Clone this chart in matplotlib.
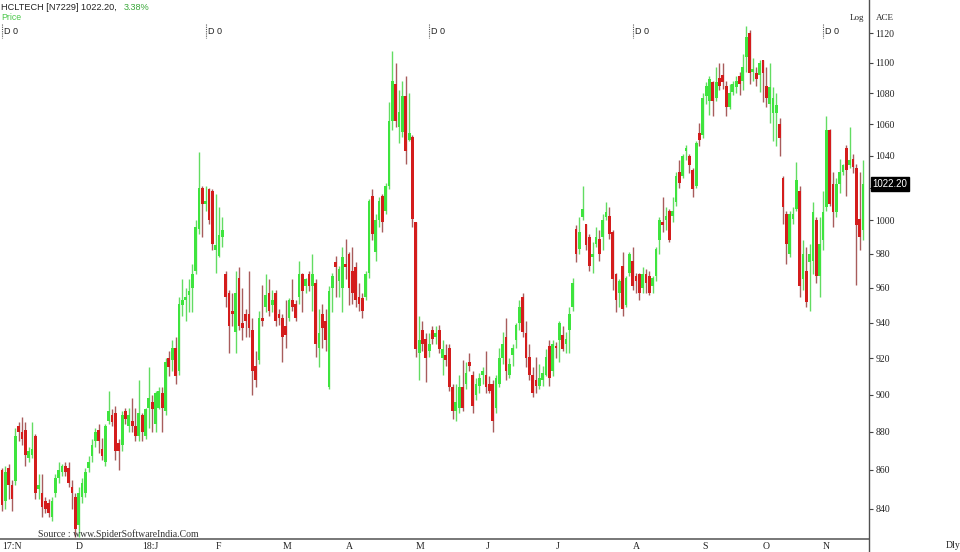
import matplotlib
matplotlib.use('Agg')
import matplotlib.pyplot as plt
import numpy as np
from matplotlib.ticker import FuncFormatter, NullLocator
from matplotlib.transforms import blended_transform_factory
from matplotlib.lines import Line2D

# ---- data (daily OHLC, HCLTECH, Nov-2017 .. Nov-2018) ----
opens = [
    860, 844, 861, 852, 854, 883, 880, 881, 866, 868, 878, 850, 848, 844, 843, 836, 848, 856, 859, 862,
    861, 851, 846, 832, 846, 848, 861, 867, 875, 881, 871, 864, 886, 889, 890, 874, 873, 891, 883, 886,
    883, 878, 889, 878, 893, 896, 884, 893, 901, 891, 920,
    919, 926, 913, 950, 953, 956, 960, 970, 995, 1020, 1010, 1019, 1018, 982, 979, 990, 968, 957, 947, 935,
    966, 940, 945, 945, 936, 916, 919, 943, 949, 957, 950, 957, 945, 943, 938, 943, 953, 951, 955, 968,
    961, 968, 961, 963, 926, 945, 941, 904, 960, 975, 964, 960, 974, 980,
    970, 972, 955, 954, 955, 969, 1015, 981, 1000, 1015, 1006, 1021, 1062, 1086, 1058, 1055, 1078, 1050, 1052, 999,
    923, 936, 931, 924, 936, 932, 936, 920, 922, 926, 904, 891, 893, 904, 906, 918, 911, 900, 905, 911,
    911, 906, 906, 893, 906, 920, 932, 911, 922, 930, 940, 955,
    934, 921, 911, 908, 905, 908, 911, 927, 913, 927, 930, 933, 928, 936, 949, 995, 983, 1002, 998, 990,
    978, 986, 989, 990, 1002, 1003, 993, 968, 957, 973, 950, 969, 976, 967, 968, 960, 968, 967, 961, 967,
    988, 999, 1000, 1006, 1003, 1011, 1030, 1027, 1043,
    1040, 1031, 1021, 1054, 1053, 1078, 1075, 1087, 1077, 1090, 1092, 1085, 1071, 1081, 1084, 1091, 1088, 1104, 1120, 1094,
    1093, 1092, 1102, 1085, 1073, 1067, 1067, 1060, 1026, 1004, 980, 1001, 1007, 1018, 965, 970, 975, 976, 1000, 967,
    988, 1008, 1056, 1022, 1005, 1022, 1030, 1045, 1034, 1038, 1032, 1001, 994,
]
highs = [
    861, 862, 863, 855, 882, 885, 888, 885, 872, 885, 879, 858, 858, 846, 845, 846, 858, 864, 863, 864,
    864, 855, 848, 851, 856, 861, 867, 876, 882, 884, 877, 884, 902, 892, 894, 876, 891, 893, 893, 898,
    893, 908, 890, 893, 915, 900, 902, 904, 904, 920, 924,
    930, 932, 955, 965, 960, 965, 974, 1000, 1042, 1021, 1021, 1020, 1019, 1016, 1008, 1002, 970, 959, 957, 970,
    972, 960, 948, 970, 943, 924, 947, 962, 968, 965, 959, 959, 948, 945, 953, 954, 965, 953, 976, 969,
    966, 970, 980, 965, 948, 951, 948, 961, 969, 979, 973, 984, 989, 981,
    984, 975, 963, 957, 970, 1013, 1019, 1004, 1014, 1016, 1023, 1074, 1108, 1100, 1082, 1088, 1091, 1080, 1053, 999,
    944, 941, 934, 934, 938, 938, 939, 930, 928, 928, 906, 906, 911, 919, 918, 923, 913, 909, 912, 915,
    924, 910, 908, 911, 926, 935, 943, 920, 928, 940, 953, 957,
    941, 928, 915, 921, 917, 916, 925, 930, 930, 929, 941, 938, 935, 949, 966, 997, 1002, 1021, 998, 992,
    987, 996, 994, 1004, 1011, 1008, 994, 969, 965, 981, 967, 981, 984, 969, 969, 972, 971, 970, 967, 984,
    1002, 1014, 1008, 1007, 1014, 1030, 1037, 1041, 1047,
    1041, 1032, 1049, 1061, 1080, 1087, 1091, 1088, 1097, 1100, 1100, 1088, 1086, 1088, 1091, 1094, 1106, 1125, 1122, 1103,
    1097, 1102, 1102, 1097, 1100, 1084, 1080, 1064, 1027, 1006, 1006, 1008, 1036, 1021, 988, 984, 986, 1011, 1002, 1002,
    1018, 1065, 1057, 1030, 1026, 1038, 1035, 1047, 1058, 1041, 1035, 1030, 1037,
]
lows = [
    839, 840, 845, 839, 852, 875, 873, 862, 864, 866, 845, 845, 836, 838, 836, 834, 846, 853, 857, 857,
    851, 840, 826, 826, 843, 846, 859, 864, 872, 869, 865, 862, 884, 883, 865, 860, 870, 884, 880, 880,
    875, 875, 875, 876, 882, 880, 880, 892, 880, 889, 910,
    913, 906, 911, 944, 941, 946, 946, 968, 992, 990, 1006, 998, 982, 969, 978, 984, 949, 923, 938, 923,
    936, 930, 932, 932, 900, 904, 917, 938, 946, 944, 946, 938, 939, 918, 926, 941, 947, 941, 951, 946,
    957, 958, 947, 921, 915, 926, 924, 903, 946, 955, 955, 946, 965, 950,
    951, 949, 947, 943, 953, 966, 988, 976, 996, 993, 1004, 1019, 1056, 1058, 1048, 1052, 1035, 1049, 996, 921,
    908, 924, 907, 921, 928, 928, 923, 911, 916, 902, 887, 886, 890, 891, 903, 913, 890, 897, 901, 906,
    901, 901, 880, 890, 904, 917, 908, 909, 916, 926, 936, 932,
    915, 908, 899, 901, 903, 905, 910, 905, 910, 920, 918, 924, 923, 923, 947, 975, 980, 1000, 982, 970,
    969, 984, 976, 982, 1000, 989, 959, 946, 949, 944, 949, 967, 959, 957, 953, 957, 957, 956, 957, 964,
    980, 993, 994, 987, 999, 1009, 1020, 1026, 1037,
    1029, 1014, 1020, 1046, 1051, 1073, 1066, 1065, 1075, 1082, 1083, 1065, 1070, 1079, 1080, 1079, 1082, 1094, 1086, 1088,
    1085, 1081, 1074, 1071, 1061, 1049, 1046, 1040, 998, 974, 978, 998, 1006, 955, 959, 949, 947, 968, 963, 955,
    982, 1006, 1009, 996, 1002, 1017, 1028, 1015, 1032, 1029, 962, 982, 988,
]
closes = [
    842, 859, 852, 845, 878, 880, 876, 868, 870, 871, 848, 852, 841, 840, 838, 844, 856, 860, 862, 859,
    853, 848, 830, 848, 853, 859, 864, 873, 880, 875, 867, 883, 891, 885, 870, 870, 889, 887, 889, 883,
    878, 890, 880, 892, 898, 892, 901, 902, 893, 918, 915,
    926, 910, 951, 953, 955, 958, 968, 996, 1020, 1010, 1012, 1000, 986, 985, 991, 994, 955, 938, 945, 957,
    938, 937, 941, 937, 913, 908, 943, 941, 956, 947, 953, 941, 943, 932, 933, 953, 949, 943, 968, 958,
    965, 961, 968, 928, 934, 937, 930, 958, 967, 972, 971, 978, 972, 960,
    957, 953, 951, 947, 968, 1012, 992, 1000, 1012, 999, 1021, 1062, 1088, 1062, 1068, 1078, 1043, 1054, 1001, 925,
    930, 928, 920, 928, 931, 934, 925, 925, 919, 904, 891, 896, 904, 893, 912, 916, 894, 906, 909, 913,
    904, 902, 886, 909, 920, 928, 913, 917, 926, 939, 949, 935,
    920, 911, 901, 905, 909, 912, 921, 909, 928, 926, 940, 925, 931, 945, 963, 980, 993, 1007, 985, 973,
    980, 990, 980, 1000, 1005, 992, 965, 953, 964, 948, 966, 980, 961, 964, 957, 968, 963, 957, 966, 983,
    1000, 997, 1003, 988, 1006, 1027, 1023, 1040, 1045,
    1034, 1019, 1048, 1050, 1077, 1085, 1089, 1075, 1087, 1085, 1087, 1071, 1080, 1086, 1088, 1086, 1097, 1117, 1093, 1096,
    1089, 1100, 1093, 1077, 1084, 1077, 1072, 1051, 1008, 986, 1004, 1004, 1025, 961, 980, 952, 980, 1005, 967, 986,
    1005, 1056, 1010, 1005, 1022, 1030, 1034, 1031, 1037, 1033, 997, 990, 1022.20,
]

month_labels = ['17:N', 'D', '18:J', 'F', 'M', 'A', 'M', 'J', 'J', 'A', 'S', 'O', 'N']
month_start_idx = [0, 22, 42, 64, 84, 103, 124, 145, 166, 189, 210, 228, 246]
price_ticks = [840, 860, 880, 900, 920, 940, 960, 980, 1000, 1020, 1040, 1060, 1080, 1100, 1120]
dividend_idx = [0, 61, 128, 189, 246]
dividend_labels = ['D 0', 'D 0', 'D 0', 'D 0', 'D 0']
symbol = 'HCLTECH [N7229]'
pct_change = 3.38

# ---- styling ----
UP_BODY, DN_BODY = '#3ee43e', '#d41c1c'
UP_WICK, DN_WICK = '#62dc62', '#a85c5c'
SERIF = ['Liberation Serif', 'DejaVu Serif']
SANS = ['Liberation Sans', 'DejaVu Sans']

W, H = 960, 552
fig = plt.figure(figsize=(W / 100, H / 100), dpi=100)
fig.patch.set_facecolor('white')
ax = fig.add_axes([0, 13 / H, 869 / W, 539 / H])
ax.set_facecolor('white')

o = np.array(opens, float)
h = np.array(highs, float)
l = np.array(lows, float)
c = np.array(closes, float)
x = np.arange(len(c))
up = c >= o
dn = ~up

ax.vlines(x[up], l[up], h[up], color=UP_WICK, lw=1.0, zorder=2)
ax.vlines(x[dn], l[dn], h[dn], color=DN_WICK, lw=1.0, zorder=2)
ax.bar(x[up], np.maximum((c - o)[up], 0.6), bottom=o[up], width=0.82,
       color=UP_BODY, linewidth=0, zorder=3)
ax.bar(x[dn], np.maximum((o - c)[dn], 0.6), bottom=c[dn], width=0.82,
       color=DN_BODY, linewidth=0, zorder=3)

ax.set_yscale('log')
ax.set_ylim(824.8, 1142.6)
ax.set_xlim(-0.6, 259.8)

last = closes[-1]


def price_fmt(v, p):
    # the last-price tag sits on top of the nearest scale label
    if abs(np.log(v / last)) < 0.006:
        return ''
    return f'{v:.0f}'


# right price axis
ax.yaxis.tick_right()
ax.set_yticks(price_ticks)
ax.yaxis.set_minor_locator(NullLocator())
ax.yaxis.set_major_formatter(FuncFormatter(price_fmt))
ax.tick_params(axis='y', which='major', direction='out', length=3, width=0.8,
               color='#444444', labelsize=7, pad=1.5, labelcolor='#222222')
for lab in ax.get_yticklabels():
    lab.set_fontfamily(SERIF)

# month axis
ax.set_xticks(month_start_idx)
ax.set_xticklabels(month_labels)
ax.tick_params(axis='x', length=0, labelsize=7, pad=2, labelcolor='#222222')
for lab in ax.get_xticklabels():
    lab.set_ha('left')
    lab.set_fontfamily(SERIF)

for s in ['top', 'left', 'right']:
    ax.spines[s].set_visible(False)
ax.spines['bottom'].set_color('#606060')
ax.spines['bottom'].set_linewidth(1.2)

# right separator line over full height
fig.add_artist(Line2D([869 / W, 869 / W], [0, 1], transform=fig.transFigure,
                      color='#505050', lw=1.0))


def ft(xp, yp, s, **kw):
    kw.setdefault('va', 'center')
    kw.setdefault('ha', 'left')
    return fig.text(xp / W, 1 - yp / H, s, **kw)


# header
t1 = ft(1, 7, f'{symbol} {last:.2f},', fontsize=6.6, color='#222222', family=SANS)
fig.text(0, 0, '')
ax.annotate(f'{pct_change:.2f}%', xy=(1, 0.5), xycoords=t1, xytext=(5, 0),
            textcoords='offset points', va='center', ha='left', fontsize=6.6,
            color='#3aa83a', family=SANS, annotation_clip=False)
ft(1, 18, 'Price', fontsize=6.3, color='#4cc84c', family=SANS)
ft(850, 18, 'Log', fontsize=6.5, color='#222222', family=SERIF)
ft(876, 18, 'ACE', fontsize=6.5, color='#222222', family=SERIF)

# dividend markers
blend = blended_transform_factory(ax.transData, fig.transFigure)
for di, dl in zip(dividend_idx, dividend_labels):
    ax.add_line(Line2D([di, di], [1 - 24 / H, 1 - 38 / H], transform=blend,
                       color='#555555', lw=0.8, ls=(0, (1, 1)), clip_on=False))
    ax.text(di + 0.7, 1 - 31 / H, dl, transform=blend, fontsize=6.5,
            color='#222222', va='center', ha='left', family=SANS, clip_on=False)

# last price tag
ax.annotate(f'{last:.2f}', xy=(1.0, last), xycoords=('axes fraction', 'data'),
            xytext=(2.5, 0), textcoords='offset points', va='center', ha='left',
            color='white', fontsize=7, family=SANS, annotation_clip=False, zorder=10,
            bbox=dict(boxstyle='square,pad=0.18', fc='black', ec='black'))

# footer
ft(38, 534, 'Source : www.SpiderSoftwareIndia.Com', fontsize=7, color='#333333', family=SERIF)
ft(946, 546, 'Dly', fontsize=7, color='#222222', family=SERIF)

fig.savefig('out.png', dpi=100, facecolor='white')
